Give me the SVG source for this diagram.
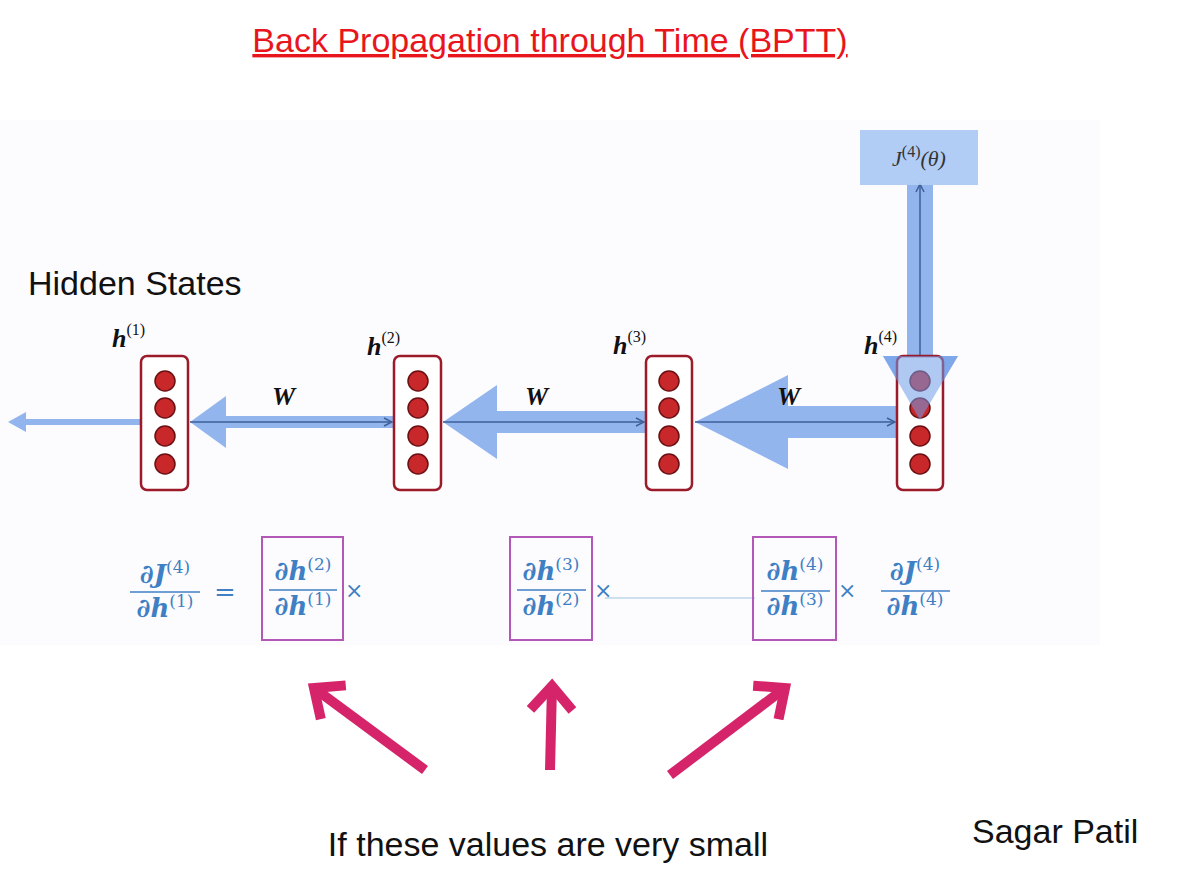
<svg xmlns="http://www.w3.org/2000/svg" width="1200" height="888" viewBox="0 0 1200 888">
<style>
.hand{font-family:"Liberation Sans","DejaVu Sans",sans-serif;font-size:34px;fill:#111}
.box{fill:#fff;stroke:#9b1b2a;stroke-width:2.5}
.dot{fill:#c8282a;stroke:#6a0f12;stroke-width:1.5}
.lbl{font-family:"Liberation Serif","DejaVu Serif",serif;font-style:italic;font-weight:bold;font-size:26px;fill:#111}
.sup{font-size:16px;font-weight:normal;font-style:normal}
.band{fill:#6f9de8;opacity:0.75}
.thin{stroke:#3d5f9a;stroke-width:1.5;fill:none}
.eq{font-family:"DejaVu Serif","Liberation Serif",serif;font-weight:bold;font-size:26px;fill:#3f7fc4}
.eqs{font-size:17px;font-weight:normal}
.pbox{fill:none;stroke:#b458b8;stroke-width:2}
.red{stroke:#d6246a;stroke-width:10;fill:none;stroke-linecap:butt}
</style>
<defs>
<marker id="thinArrow" markerWidth="10" markerHeight="10" refX="9" refY="5" orient="auto" markerUnits="userSpaceOnUse"><path d="M1,1 L9,5 L1,9" fill="none" stroke="#3d5f9a" stroke-width="1.5"/></marker>
<marker id="redArrow" markerWidth="50" markerHeight="50" refX="30" refY="25" orient="auto" markerUnits="userSpaceOnUse"><path d="M6,4 L30,25 L6,46" fill="none" stroke="#d6246a" stroke-width="10" stroke-linejoin="miter"/></marker>
</defs>
<rect x="0" y="120" width="1100" height="525" fill="#fcfcfe"/>
<text x="550" y="52" text-anchor="middle" style="font-family:'Liberation Sans',sans-serif;font-size:34px;fill:#e8161c;text-decoration:underline">Back Propagation through Time (BPTT)</text>
<text class="hand" x="28" y="295">Hidden States</text>
<g id="connectors">
<path class="band" d="M8,422 L26,412 L26,419 L141,419 L141,425 L26,425 L26,432 Z"/>
<path class="band" d="M190,422 L226,396 L226,416 L394,416 L394,428 L226,428 L226,448 Z"/>
<path class="band" d="M443,422 L497,385 L497,411 L646,411 L646,433 L497,433 L497,459 Z"/>
<path class="band" d="M695,422 L788,375 L788,406 L897,406 L897,438 L788,438 L788,469 Z"/>
<path class="band" d="M907,185 L933,185 L933,356 L958,356 L920,420 L883,356 L907,356 Z"/>
<line class="thin" x1="190" y1="422" x2="392" y2="422" marker-end="url(#thinArrow)"/>
<line class="thin" x1="443" y1="422" x2="644" y2="422" marker-end="url(#thinArrow)"/>
<line class="thin" x1="695" y1="422" x2="895" y2="422" marker-end="url(#thinArrow)"/>
<line class="thin" x1="920" y1="356" x2="920" y2="184" marker-end="url(#thinArrow)"/>
<line x1="605" y1="598" x2="755" y2="598" stroke="#9cc4e4" stroke-width="1"/>
<line class="red" x1="425" y1="770" x2="314" y2="688" marker-end="url(#redArrow)"/>
<line class="red" x1="550" y1="770" x2="552" y2="686" marker-end="url(#redArrow)"/>
<line class="red" x1="670" y1="775" x2="785" y2="688" marker-end="url(#redArrow)"/>
</g>
<g id="J"><rect x="860" y="130" width="118" height="55" fill="#a9c6f4" opacity="0.9"/>
<text x="919" y="166" text-anchor="middle" style="font-family:'Liberation Serif',serif;font-style:italic;font-size:22px;fill:#333">J<tspan class="sup" dy="-9" font-size="14">(4)</tspan><tspan dy="9">(θ)</tspan></text></g>
<g id="h1"><rect class="box" x="141" y="356" width="47" height="134" rx="6"/>
<circle class="dot" cx="165" cy="381" r="10"/><circle class="dot" cx="165" cy="408" r="10"/><circle class="dot" cx="165" cy="436" r="10"/><circle class="dot" cx="165" cy="464" r="10"/>
<text class="lbl" x="112" y="347">h<tspan class="sup" dy="-12">(1)</tspan></text></g>
<g id="h2"><rect class="box" x="394" y="356" width="47" height="134" rx="6"/>
<circle class="dot" cx="418" cy="381" r="10"/><circle class="dot" cx="418" cy="408" r="10"/><circle class="dot" cx="418" cy="436" r="10"/><circle class="dot" cx="418" cy="464" r="10"/>
<text class="lbl" x="367" y="355">h<tspan class="sup" dy="-12">(2)</tspan></text></g>
<g id="h3"><rect class="box" x="646" y="356" width="46" height="134" rx="6"/>
<circle class="dot" cx="669" cy="381" r="10"/><circle class="dot" cx="669" cy="408" r="10"/><circle class="dot" cx="669" cy="436" r="10"/><circle class="dot" cx="669" cy="464" r="10"/>
<text class="lbl" x="613" y="354">h<tspan class="sup" dy="-12">(3)</tspan></text></g>
<g id="h4"><rect class="box" x="897" y="356" width="46" height="134" rx="6"/>
<circle class="dot" cx="920" cy="381" r="10"/><circle class="dot" cx="920" cy="408" r="10"/><circle class="dot" cx="920" cy="436" r="10"/><circle class="dot" cx="920" cy="464" r="10"/>
<path d="M883,356 L958,356 L920,420 Z" fill="#6f9de8" opacity="0.55"/>
<text class="lbl" x="864" y="354">h<tspan class="sup" dy="-12">(4)</tspan></text></g>
<g id="W"><text class="lbl" x="272" y="405">W</text><text class="lbl" x="525" y="405">W</text><text class="lbl" x="777" y="405">W</text></g>
<g id="equation">
<text class="eq" x="165" y="583" text-anchor="middle">∂<tspan font-style="italic">J</tspan><tspan class="eqs" dy="-10">(4)</tspan></text>
<line x1="130" y1="592" x2="200" y2="592" stroke="#3f7fc4" stroke-width="1.5"/>
<text class="eq" x="165" y="617" text-anchor="middle">∂<tspan font-style="italic">h</tspan><tspan class="eqs" dy="-10">(1)</tspan></text>
<text class="eq" x="214" y="601" style="font-weight:normal">=</text>
<rect class="pbox" x="262" y="537" width="81" height="103"/>
<text class="eq" x="303" y="580" text-anchor="middle">∂<tspan font-style="italic">h</tspan><tspan class="eqs" dy="-10">(2)</tspan></text>
<line x1="269" y1="590" x2="337" y2="590" stroke="#3f7fc4" stroke-width="1.5"/>
<text class="eq" x="303" y="615" text-anchor="middle">∂<tspan font-style="italic">h</tspan><tspan class="eqs" dy="-10">(1)</tspan></text>
<text class="eq" x="345" y="598" style="font-weight:normal;font-size:22px">×</text>
<rect class="pbox" x="510" y="537" width="82" height="103"/>
<text class="eq" x="551" y="580" text-anchor="middle">∂<tspan font-style="italic">h</tspan><tspan class="eqs" dy="-10">(3)</tspan></text>
<line x1="517" y1="590" x2="586" y2="590" stroke="#3f7fc4" stroke-width="1.5"/>
<text class="eq" x="551" y="615" text-anchor="middle">∂<tspan font-style="italic">h</tspan><tspan class="eqs" dy="-10">(2)</tspan></text>
<text class="eq" x="594" y="598" style="font-weight:normal;font-size:22px">×</text>
<rect class="pbox" x="753" y="537" width="83" height="103"/>
<text class="eq" x="795" y="580" text-anchor="middle">∂<tspan font-style="italic">h</tspan><tspan class="eqs" dy="-10">(4)</tspan></text>
<line x1="761" y1="591" x2="830" y2="591" stroke="#3f7fc4" stroke-width="1.5"/>
<text class="eq" x="795" y="615" text-anchor="middle">∂<tspan font-style="italic">h</tspan><tspan class="eqs" dy="-10">(3)</tspan></text>
<text class="eq" x="838" y="598" style="font-weight:normal;font-size:22px">×</text>
<text class="eq" x="915" y="580" text-anchor="middle">∂<tspan font-style="italic">J</tspan><tspan class="eqs" dy="-10">(4)</tspan></text>
<line x1="881" y1="591" x2="950" y2="591" stroke="#3f7fc4" stroke-width="1.5"/>
<text class="eq" x="915" y="615" text-anchor="middle">∂<tspan font-style="italic">h</tspan><tspan class="eqs" dy="-10">(4)</tspan></text>
</g>
<text class="hand" x="548" y="856" text-anchor="middle">If these values are very small</text>
<text class="hand" x="972" y="843">Sagar Patil</text>
</svg>
